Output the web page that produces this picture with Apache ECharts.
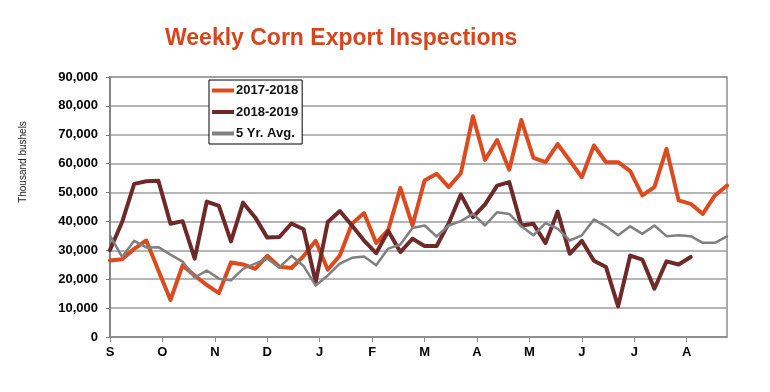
<!DOCTYPE html>
<html>
<head>
<meta charset="utf-8">
<script src="https://cdn.jsdelivr.net/npm/echarts@6/dist/echarts.min.js"></script>
<style>
  html, body { margin: 0; padding: 0; background: #fff; }
  #frame { position: relative; width: 770px; height: 392px; box-sizing: border-box; border: 2px solid #8c8c8c; }
  #chart { position: absolute; left: -2px; top: -2px; width: 770px; height: 392px; }
</style>
</head>
<body>
<div id="frame"><div id="chart"></div></div>
<script>
// Month tick labels (weekly marketing year, Sep–Aug)
const monthLabels = ['S', 'O', 'N', 'D', 'J', 'F', 'M', 'A', 'M', 'J', 'J', 'A'];
const seriesNames = ['2017-2018', '2018-2019', '5 Yr. Avg.'];

// Weekly values, thousand bushels
const y2017_2018 = [26500, 26900, 30500, 33400, 23000, 12800, 24800, 21300, 18000, 15200,
  25800, 25100, 23600, 28100, 24300, 23900, 28000, 33300, 23300, 28200,
  39200, 42900, 32500, 37100, 51600, 38600, 54200, 56500, 51900, 56700,
  76400, 61300, 68200, 57900, 75100, 62000, 60500, 66800, 61100, 55300,
  66300, 60500, 60500, 57400, 49000, 51900, 65100, 47300, 46100, 42600,
  49000, 52400];
const y2018_2019 = [30100, 39800, 53000, 53900, 54100, 39200, 40100, 27100, 46900, 45400,
  33100, 46500, 41400, 34400, 34600, 39300, 37300, 19000, 39800, 43600,
  38600, 33400, 29000, 36700, 29400, 34000, 31500, 31500, 39400, 49300,
  41500, 45900, 52400, 53600, 38600, 39200, 32500, 43400, 28800, 33300,
  26400, 24200, 10600, 28200, 26800, 16700, 26200, 25100, 27700];
const y5yrAvg = [35100, 27700, 33300, 31000, 31100, 28500, 26100, 20600, 23000, 20200,
  19600, 23600, 25400, 27100, 24100, 28100, 24600, 17800, 21300, 25400,
  27400, 27900, 24800, 30600, 32000, 37700, 38600, 34800, 38600, 40100,
  42600, 38600, 43200, 42600, 38300, 35200, 39400, 37500, 33400, 35200,
  40700, 38300, 35200, 38300, 35700, 38600, 34900, 35200, 34900, 32600,
  32600, 34800];

const weeksPerMonth = 52 / 12;
const toPairs = arr => arr.map((v, i) => [i, v]);

const chart = echarts.init(document.getElementById('chart'), null, { renderer: 'canvas' });
chart.setOption({
  animation: false,
  backgroundColor: '#fff',
  title: {
    text: 'Weekly Corn Export Inspections',
    left: 160, top: 22,
    textStyle: { color: '#D6451C', fontSize: 23, fontWeight: 'bold', fontFamily: 'Liberation Sans, Arial, sans-serif' }
  },
  graphic: [{
    type: 'text',
    x: 23, y: 162,
    rotation: Math.PI / 2,
    style: {
      text: 'Thousand bushels',
      fill: '#222',
      font: '10px "Liberation Sans", Arial, sans-serif',
      textAlign: 'center',
      textVerticalAlign: 'middle'
    }
  }],
  legend: {
    orient: 'vertical',
    left: 209, top: 80,
    data: seriesNames,
    icon: 'rect',
    itemWidth: 22, itemHeight: 4,
    itemGap: 8.5,
    padding: [4, 4, 4, 3],
    backgroundColor: '#fff',
    borderColor: '#000', borderWidth: 1,
    textStyle: { color: '#111', fontSize: 13, fontWeight: 'bold', fontFamily: 'Liberation Sans, Arial, sans-serif', padding: [0, 0, 0, -3] }
  },
  grid: {
    left: 110, right: 43, top: 77, bottom: 55,
    show: true, borderColor: '#8f8f8f', borderWidth: 1.5, backgroundColor: 'transparent'
  },
  xAxis: {
    type: 'value',
    min: 0, max: 51,
    interval: weeksPerMonth,
    axisLine: { show: true, lineStyle: { color: '#8a8a8a', width: 1.5 } },
    axisTick: { show: true, inside: false, length: 5, lineStyle: { color: '#8a8a8a', width: 1 } },
    splitLine: { show: false },
    axisLabel: {
      margin: 9,
      color: '#000', fontSize: 13, fontWeight: 'bold', fontFamily: 'Liberation Sans, Arial, sans-serif',
      showMaxLabel: false,
      formatter: function (v) {
        const idx = Math.round(v / weeksPerMonth);
        if (Math.abs(v - idx * weeksPerMonth) < 0.01 && idx < monthLabels.length) return monthLabels[idx];
        return '';
      }
    }
  },
  yAxis: {
    type: 'value',
    min: 0, max: 90000, interval: 10000,
    axisLine: { show: true, lineStyle: { color: '#777', width: 1.5 } },
    axisTick: { show: true, inside: false, length: 4, lineStyle: { color: '#777' } },
    splitLine: { show: true, lineStyle: { color: '#9c9c9c', width: 1.5 } },
    axisLabel: {
      margin: 12,
      color: '#000', fontSize: 13, fontWeight: 'bold', fontFamily: 'Liberation Sans, Arial, sans-serif',
      formatter: v => v.toLocaleString('en-US')
    }
  },
  series: [
    { name: seriesNames[0], type: 'line', data: toPairs(y2017_2018), symbol: 'none', color: '#DC4A1F',
      lineStyle: { width: 4, color: '#DC4A1F', join: 'round', cap: 'round' } },
    { name: seriesNames[1], type: 'line', data: toPairs(y2018_2019), symbol: 'none', color: '#6E2929',
      lineStyle: { width: 4, color: '#6E2929', join: 'round', cap: 'round' } },
    { name: seriesNames[2], type: 'line', data: toPairs(y5yrAvg), symbol: 'none', color: '#808080',
      lineStyle: { width: 2.5, color: '#808080', join: 'round', cap: 'round' } }
  ]
});
</script>
</body>
</html>
